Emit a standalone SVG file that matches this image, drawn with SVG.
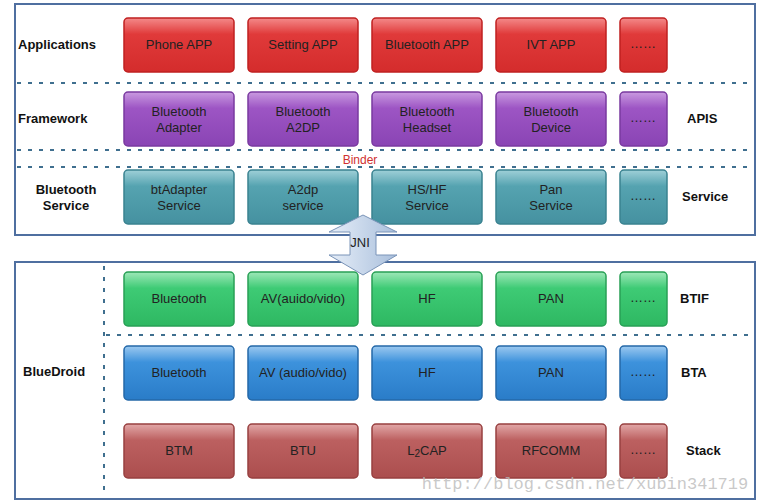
<svg xmlns="http://www.w3.org/2000/svg" width="758" height="503" viewBox="0 0 758 503">
<style>
.t{font-family:"Liberation Sans",Arial,sans-serif;font-size:13px;fill:#222;text-anchor:middle}
.l{font-family:"Liberation Sans",Arial,sans-serif;font-size:13px;font-weight:bold;fill:#111}
.d{stroke:#3f6f8f;stroke-width:2;stroke-dasharray:4,7;fill:none}
.n rect{stroke-width:1.5}
</style>
<defs>
<linearGradient id="r" x1="0" y1="0" x2="0" y2="1"><stop offset="0" stop-color="#f48a8a"/><stop offset="0.3" stop-color="#e03a3a"/><stop offset="1" stop-color="#d42c2c"/></linearGradient>
<linearGradient id="p" x1="0" y1="0" x2="0" y2="1"><stop offset="0" stop-color="#c99ae0"/><stop offset="0.3" stop-color="#9d55c4"/><stop offset="1" stop-color="#8a44b4"/></linearGradient>
<linearGradient id="c" x1="0" y1="0" x2="0" y2="1"><stop offset="0" stop-color="#9fd0d8"/><stop offset="0.3" stop-color="#55a3b0"/><stop offset="1" stop-color="#4591a0"/></linearGradient>
<linearGradient id="g" x1="0" y1="0" x2="0" y2="1"><stop offset="0" stop-color="#9ee8b8"/><stop offset="0.3" stop-color="#3ecb75"/><stop offset="1" stop-color="#2eb862"/></linearGradient>
<linearGradient id="b" x1="0" y1="0" x2="0" y2="1"><stop offset="0" stop-color="#9cc9f0"/><stop offset="0.3" stop-color="#3d92dc"/><stop offset="1" stop-color="#2a7cc8"/></linearGradient>
<linearGradient id="m" x1="0" y1="0" x2="0" y2="1"><stop offset="0" stop-color="#e2a8a8"/><stop offset="0.3" stop-color="#bc6060"/><stop offset="1" stop-color="#ab4e4e"/></linearGradient>
<linearGradient id="a" x1="0" y1="0" x2="1" y2="0"><stop offset="0" stop-color="#e6eef8"/><stop offset="1" stop-color="#a9bfdc"/></linearGradient>
</defs>
<rect x="15" y="4" width="740" height="231" fill="#fff" stroke="#4f6fa0" stroke-width="2"/>
<rect x="15" y="262" width="740" height="237" fill="#fff" stroke="#4f6fa0" stroke-width="2"/>
<g id="connectors">
<line class="d" x1="17" y1="83" x2="753" y2="83"/>
<line class="d" x1="17" y1="150" x2="753" y2="150"/>
<line class="d" x1="17" y1="167" x2="753" y2="167"/>
<line class="d" x1="104" y1="266" x2="104" y2="497"/>
<line class="d" x1="106" y1="335" x2="753" y2="335"/>
</g>
<g class="l">
<text x="18" y="49">Applications</text>
<text x="18" y="123">Framework</text>
<text x="66" y="194" text-anchor="middle">Bluetooth</text>
<text x="66" y="210" text-anchor="middle">Service</text>
<text x="687" y="123">APIS</text>
<text x="682" y="201">Service</text>
<text x="23" y="376">BlueDroid</text>
<text x="680" y="303">BTIF</text>
<text x="681" y="377">BTA</text>
<text x="686" y="455">Stack</text>
</g>
<text x="360" y="164" font-family="Liberation Sans,Arial,sans-serif" font-size="12" fill="#d03030" text-anchor="middle">Binder</text>
<g class="n" id="row1">
<g id="n11"><rect x="124" y="18" width="110" height="54" rx="4" fill="url(#r)" stroke="#c02020"/><text class="t" x="179" y="49">Phone APP</text></g>
<g id="n12"><rect x="248" y="18" width="110" height="54" rx="4" fill="url(#r)" stroke="#c02020"/><text class="t" x="303" y="49">Setting APP</text></g>
<g id="n13"><rect x="372" y="18" width="110" height="54" rx="4" fill="url(#r)" stroke="#c02020"/><text class="t" x="427" y="49">Bluetooth APP</text></g>
<g id="n14"><rect x="496" y="18" width="110" height="54" rx="4" fill="url(#r)" stroke="#c02020"/><text class="t" x="551" y="49">IVT APP</text></g>
<g id="n15"><rect x="620" y="18" width="47" height="54" rx="4" fill="url(#r)" stroke="#c02020"/><text class="t" x="643" y="48">……</text></g>
</g>
<g class="n" id="row2">
<g id="n21"><rect x="124" y="92" width="110" height="54" rx="4" fill="url(#p)" stroke="#7a3aa0"/><text class="t" x="179" y="116">Bluetooth</text><text class="t" x="179" y="132">Adapter</text></g>
<g id="n22"><rect x="248" y="92" width="110" height="54" rx="4" fill="url(#p)" stroke="#7a3aa0"/><text class="t" x="303" y="116">Bluetooth</text><text class="t" x="303" y="132">A2DP</text></g>
<g id="n23"><rect x="372" y="92" width="110" height="54" rx="4" fill="url(#p)" stroke="#7a3aa0"/><text class="t" x="427" y="116">Bluetooth</text><text class="t" x="427" y="132">Headset</text></g>
<g id="n24"><rect x="496" y="92" width="110" height="54" rx="4" fill="url(#p)" stroke="#7a3aa0"/><text class="t" x="551" y="116">Bluetooth</text><text class="t" x="551" y="132">Device</text></g>
<g id="n25"><rect x="620" y="92" width="47" height="54" rx="4" fill="url(#p)" stroke="#7a3aa0"/><text class="t" x="643" y="122">……</text></g>
</g>
<g class="n" id="row3">
<g id="n31"><rect x="124" y="170" width="110" height="54" rx="4" fill="url(#c)" stroke="#3a8290"/><text class="t" x="179" y="194">btAdapter</text><text class="t" x="179" y="210">Service</text></g>
<g id="n32"><rect x="248" y="170" width="110" height="54" rx="4" fill="url(#c)" stroke="#3a8290"/><text class="t" x="303" y="194">A2dp</text><text class="t" x="303" y="210">service</text></g>
<g id="n33"><rect x="372" y="170" width="110" height="54" rx="4" fill="url(#c)" stroke="#3a8290"/><text class="t" x="427" y="194">HS/HF</text><text class="t" x="427" y="210">Service</text></g>
<g id="n34"><rect x="496" y="170" width="110" height="54" rx="4" fill="url(#c)" stroke="#3a8290"/><text class="t" x="551" y="194">Pan</text><text class="t" x="551" y="210">Service</text></g>
<g id="n35"><rect x="620" y="170" width="47" height="54" rx="4" fill="url(#c)" stroke="#3a8290"/><text class="t" x="643" y="200">……</text></g>
</g>
<g class="n" id="row4">
<g id="n41"><rect x="124" y="272" width="110" height="54" rx="4" fill="url(#g)" stroke="#28a055"/><text class="t" x="179" y="303">Bluetooth</text></g>
<g id="n42"><rect x="248" y="272" width="110" height="54" rx="4" fill="url(#g)" stroke="#28a055"/><text class="t" x="303" y="303">AV(auido/vido)</text></g>
<g id="n43"><rect x="372" y="272" width="110" height="54" rx="4" fill="url(#g)" stroke="#28a055"/><text class="t" x="427" y="303">HF</text></g>
<g id="n44"><rect x="496" y="272" width="110" height="54" rx="4" fill="url(#g)" stroke="#28a055"/><text class="t" x="551" y="303">PAN</text></g>
<g id="n45"><rect x="620" y="272" width="47" height="54" rx="4" fill="url(#g)" stroke="#28a055"/><text class="t" x="643" y="302">……</text></g>
</g>
<g class="n" id="row5">
<g id="n51"><rect x="124" y="346" width="110" height="54" rx="4" fill="url(#b)" stroke="#2468a8"/><text class="t" x="179" y="377">Bluetooth</text></g>
<g id="n52"><rect x="248" y="346" width="110" height="54" rx="4" fill="url(#b)" stroke="#2468a8"/><text class="t" x="303" y="377">AV (audio/vido)</text></g>
<g id="n53"><rect x="372" y="346" width="110" height="54" rx="4" fill="url(#b)" stroke="#2468a8"/><text class="t" x="427" y="377">HF</text></g>
<g id="n54"><rect x="496" y="346" width="110" height="54" rx="4" fill="url(#b)" stroke="#2468a8"/><text class="t" x="551" y="377">PAN</text></g>
<g id="n55"><rect x="620" y="346" width="47" height="54" rx="4" fill="url(#b)" stroke="#2468a8"/><text class="t" x="643" y="376">……</text></g>
</g>
<g class="n" id="row6">
<g id="n61"><rect x="124" y="424" width="110" height="54" rx="4" fill="url(#m)" stroke="#984040"/><text class="t" x="179" y="455">BTM</text></g>
<g id="n62"><rect x="248" y="424" width="110" height="54" rx="4" fill="url(#m)" stroke="#984040"/><text class="t" x="303" y="455">BTU</text></g>
<g id="n63"><rect x="372" y="424" width="110" height="54" rx="4" fill="url(#m)" stroke="#984040"/><text class="t" x="427" y="455">L<tspan font-size="10" dy="2">2</tspan><tspan dy="-2">CAP</tspan></text></g>
<g id="n64"><rect x="496" y="424" width="110" height="54" rx="4" fill="url(#m)" stroke="#984040"/><text class="t" x="551" y="455">RFCOMM</text></g>
<g id="n65"><rect x="620" y="424" width="47" height="54" rx="4" fill="url(#m)" stroke="#984040"/><text class="t" x="643" y="454">……</text></g>
</g>
<g id="jni">
<polygon points="363,215 397,232 376,232 376,255 397,255 363,275 329,255 350,255 350,232 329,232" fill="url(#a)" stroke="#7a94b8" stroke-width="1"/>
<text x="360" y="247" font-family="Liberation Sans,Arial,sans-serif" font-size="13" fill="#222" text-anchor="middle">JNI</text>
</g>
<text x="585" y="489" font-family="Liberation Mono,monospace" font-size="17" fill="#bbb" fill-opacity="0.8" text-anchor="middle">http://blog.csdn.net/xubin341719</text>
</svg>
